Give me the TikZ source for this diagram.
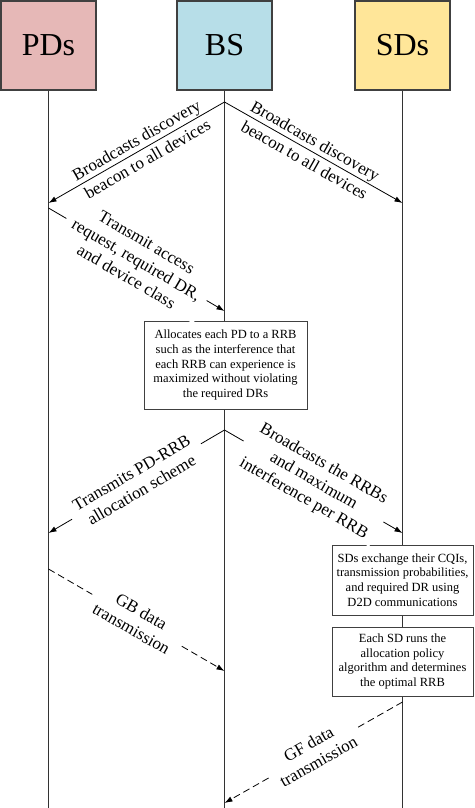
\documentclass[tikz,border=0pt]{standalone}
\usepackage{fontspec}
\setmainfont{Liberation Serif}
\usetikzlibrary{arrows.meta}
\definecolor{pdfill}{HTML}{E6B8B7}
\definecolor{bsfill}{HTML}{B7DEE8}
\definecolor{sdfill}{HTML}{FFE699}
\definecolor{edge}{HTML}{404040}
\definecolor{lineg}{HTML}{333333}
\begin{document}
\begin{tikzpicture}[x=1pt,y=-1pt,
  head/.style={draw=edge, line width=1.3pt, minimum width=95pt, minimum height=89pt, inner sep=0pt, font=\fontsize{32}{36}\selectfont},
  lifeline/.style={draw=lineg, line width=0.9pt},
  msg/.style={draw=black, -{Latex[length=8pt,width=5.5pt]}, line width=0.8pt},
  gmsg/.style={msg, dash pattern=on 7pt off 4pt},
  lbl/.style={sloped, align=center, font=\fontsize{17}{20}\selectfont, inner sep=1pt},
  lblw/.style={lbl, fill=white, inner xsep=8pt, inner ysep=1pt},
  proc/.style={draw=edge, fill=white, line width=0.9pt, align=center, font=\fontsize{12.5}{14.7}\selectfont, inner sep=0pt}
]
\useasboundingbox (0,0) rectangle (474,808);
\fill[white] (0,0) rectangle (474,808);

% headers
\node[head, fill=pdfill] (PD) at (48.5,45.5) {PDs};
\node[head, fill=bsfill] (BS) at (224.5,45.5) {BS};
\node[head, fill=sdfill] (SD) at (402.5,45.5) {SDs};

% lifeline ends
\path (PD.south) ++(0,718) coordinate (PDe);
\path (BS.south) ++(0,718) coordinate (BSe);
\path (SD.south) ++(0,718) coordinate (SDe);
\draw[lifeline] (PD.south) -- (PDe);
\draw[lifeline] (BS.south) -- (BSe);
\draw[lifeline] (SD.south) -- (SDe);

% points on lifelines
\coordinate (bs1) at (224.5,102);
\coordinate (pd1) at (48.5,203);
\coordinate (sd1) at (402.5,203);
\coordinate (pd2) at (48.5,208);
\coordinate (bs2) at (224.5,311);
\coordinate (bs3) at (224.5,430);
\coordinate (pd3) at (48.5,533);
\coordinate (sd3) at (402.5,533);
\coordinate (pd4) at (48.5,569);
\coordinate (bs4) at (224.5,671);
\coordinate (sd5) at (402.5,702);
\coordinate (bs5) at (224.5,803);

% boxes
\node[proc, minimum width=163pt, minimum height=88pt] (alloc) at (225.5,365)
  {Allocates each PD to a RRB\\such as the interference that\\each RRB can experience is\\maximized without violating\\the required DRs};
\node[proc, minimum width=141pt, minimum height=70pt] (sdx) at (402.5,580)
  {SDs exchange their CQIs,\\transmission probabilities,\\and required DR using\\D2D communications};
\node[proc, minimum width=141pt, minimum height=69pt] (sdrun) at (402.5,661.5)
  {Each SD runs the\\allocation policy\\algorithm and determines\\the optimal RRB};

% messages
\draw[msg] (bs1) -- node[lbl, pos=0.47] {Broadcasts discovery\\[2pt]beacon to all devices} (pd1);
\draw[msg] (bs1) -- node[lbl, pos=0.48] {Broadcasts discovery\\[2pt]beacon to all devices} (sd1);
\draw[msg] (pd2) -- node[lblw] {Transmit access\\request, required DR,\\and device class} (bs2);
\draw[msg] (bs3) -- node[lblw] {Transmits PD-RRB\\allocation scheme} (pd3);
\draw[msg] (bs3) -- node[lblw] {Broadcasts the RRBs\\and maximum\\interference per RRB} (sd3);
\draw[gmsg] (pd4) -- node[lblw] {GB data\\transmission} (bs4);
\draw[gmsg] (sd5) -- node[lblw] {GF data\\transmission} (bs5);
\end{tikzpicture}
\end{document}
